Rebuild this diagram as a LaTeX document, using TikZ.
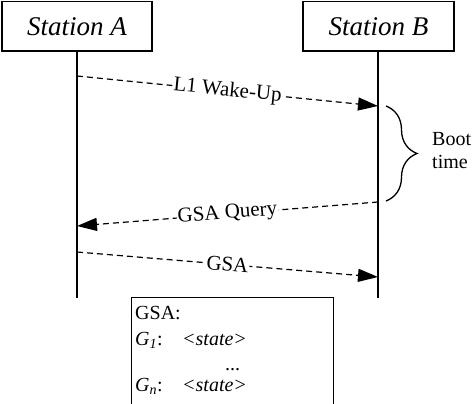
\documentclass[tikz,border=0pt]{standalone}
\usepackage{fontspec}
\setmainfont{Liberation Serif}
\usetikzlibrary{arrows.meta,decorations.pathreplacing}
\begin{document}
\begin{tikzpicture}[x=1pt,y=-1pt,
  station/.style={draw, line width=1.2pt, minimum height=49.5pt, inner sep=0pt,
    font=\fontsize{27}{27}\selectfont\itshape},
  life/.style={line width=1.2pt},
  msg/.style={line width=1.2pt, dash pattern=on 6pt off 4pt,
    -{Triangle[length=20pt,width=13pt]}},
  lbl/.style={midway, sloped, fill=white, inner sep=1pt,
    font=\fontsize{21}{21}\selectfont},
  txt/.style={anchor=base west, inner sep=0pt, font=\fontsize{20}{24}\selectfont},
  bracestyle/.style={line width=1.3pt, decorate, decoration={brace, amplitude=31pt}}
]
\useasboundingbox (0,0) rectangle (474,404);
% stations
\node[station, minimum width=150pt] (sa) at (77,26.25) {Station A};
\node[station, minimum width=151pt] (sb) at (378.5,26.25) {Station B};
% lifelines
\coordinate (aend) at (77,298);
\coordinate (bend) at (378,298);
\draw[life] (sa.south -| aend) -- (aend);
\draw[life] (sb.south -| bend) -- (bend);
% message points
\coordinate (a1) at (77,76);
\coordinate (b1) at (378,106);
\coordinate (b2) at (378,202);
\coordinate (a2) at (77,226);
\coordinate (a3) at (77,252);
\coordinate (b3) at (378,277);
\draw[msg] (a1) -- node[lbl] {L1 Wake-Up} (b1);
\draw[msg] (b2) -- node[lbl] {GSA Query} (a2);
\draw[msg] (a3) -- node[lbl] {GSA} (b3);
% brace
\coordinate (br1) at (386,106);
\coordinate (br2) at (386,201);
\draw[bracestyle] (br1) -- (br2);
\node[txt] (boot) at (432,145) {Boot};
\node[txt] (time) at (432,168) {time};
% GSA box
\node[draw, line width=1.2pt, minimum width=202pt, minimum height=120pt,
  anchor=north west, inner sep=0pt] (gbox) at (131,297) {};
\node[txt] (g0) at (135,319) {GSA:};
\node[txt] (g1) at (135,345) {\textit{G}\textsubscript{\textit{1}}:};
\node[txt] (s1) at (182,345) {\textit{<state>}};
\node[txt] (dots) at (225,370) {...};
\node[txt] (gn) at (135,391) {\textit{G}\textsubscript{\textit{n}}:};
\node[txt] (sn) at (182,391) {\textit{<state>}};
\end{tikzpicture}
\end{document}
